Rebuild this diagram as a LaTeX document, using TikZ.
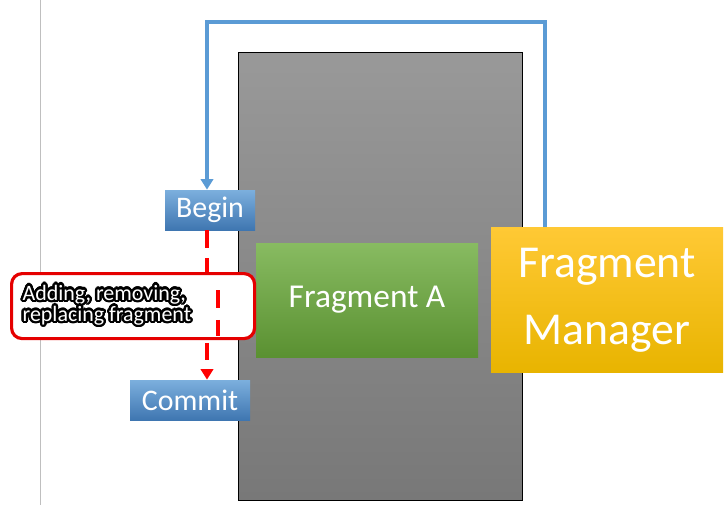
\documentclass[tikz,border=0pt]{standalone}
\usepackage{fontspec}
\setmainfont{Carlito}
\usepackage[copies]{contour}
\contournumber{24}
\contourlength{1.3pt}
\usetikzlibrary{positioning,arrows.meta}
\definecolor{flowblue}{HTML}{5B9BD5}
\definecolor{boxblue}{HTML}{4A8BD0}
\definecolor{boxgreen}{HTML}{6AAA3A}
\definecolor{orangetop}{HTML}{FFC935}
\definecolor{orangebot}{HTML}{E8B400}
\tikzset{%
  step box/.style={
    draw=none,
    top color=flowblue!80!white,
    bottom color=boxblue!85!black,
    text=white,
    font=\fontsize{17}{20}\selectfont,
    inner sep=0pt
  },
  trans line/.style={red, line width=2.2pt, dash pattern=on 10pt off 6pt},
}
\begin{document}
\begin{tikzpicture}[x=0.02cm, y=-0.02cm, >={Triangle[length=6pt,width=7pt]}]
\useasboundingbox (0,0) rectangle (727,505);

% page edge
\draw [black!25] (40,0) -- (40,505);

% phone screen
\node [draw=black, top color=black!40, bottom color=black!53, minimum width=284*0.02cm,
  minimum height=448*0.02cm, anchor=north west, inner sep=0pt] (screen) at (238,52) {};

% boxes
\node [step box, minimum width=90*0.02cm, minimum height=40*0.02cm] (begin) at (210,210) {Begin};
\node [step box, minimum width=120*0.02cm, minimum height=40*0.02cm] (commit) at (190,400) {Commit};
\node [draw=none, top color=boxgreen!80!white, bottom color=boxgreen!85!black,
  minimum width=222*0.02cm, minimum height=114*0.02cm, inner sep=0pt,
  text=white, font=\fontsize{19}{24}\selectfont] (fragA) at (367,300) {Fragment A};
\node [draw=none, top color=orangetop, bottom color=orangebot,
  minimum width=232*0.02cm, minimum height=145*0.02cm, inner sep=0pt, align=center,
  text=white, font=\fontsize{26}{38}\selectfont] (manager) at (607,300) {Fragment\\Manager};

%%%%%%%%%%%%%%%%%%%%%%%%%%%%%%%%%%%%%%%%%%%%%%%%%%%%%%%%%%%%%%%%%%%%%%%%%%%%%
% connections

\coordinate (loop-r) at (545,22);
\coordinate (loop-l) at (207,22);
\draw [->, flowblue, line width=2.5pt] (manager.north -| loop-r) -- (loop-r) -- (loop-l)
  -- (begin.north -| loop-l);

\draw [->, trans line] (begin.south -| loop-l) -- (commit.north -| loop-l);

% callout
\node [draw=red!90!black, line width=1.8pt, fill=white, rounded corners=6pt,
  minimum width=243*0.02cm, minimum height=65*0.02cm, anchor=north west] (callout) at (10,272) {};
\node [anchor=west, align=left, text=white, font=\fontsize{12.5}{13}\selectfont, inner sep=0pt]
  (callout-text) at ([xshift=7pt]callout.west)
  {\contour{black}{Adding, removing,}\\[-1pt]\contour{black}{replacing fragment}};
\coordinate (gap-1) at (218,290);
\coordinate (gap-2) at (218,336);
\draw [trans line, dash pattern=on 10pt off 7pt, line width=2.6pt] (gap-1) -- (gap-2);

\end{tikzpicture}
\end{document}
